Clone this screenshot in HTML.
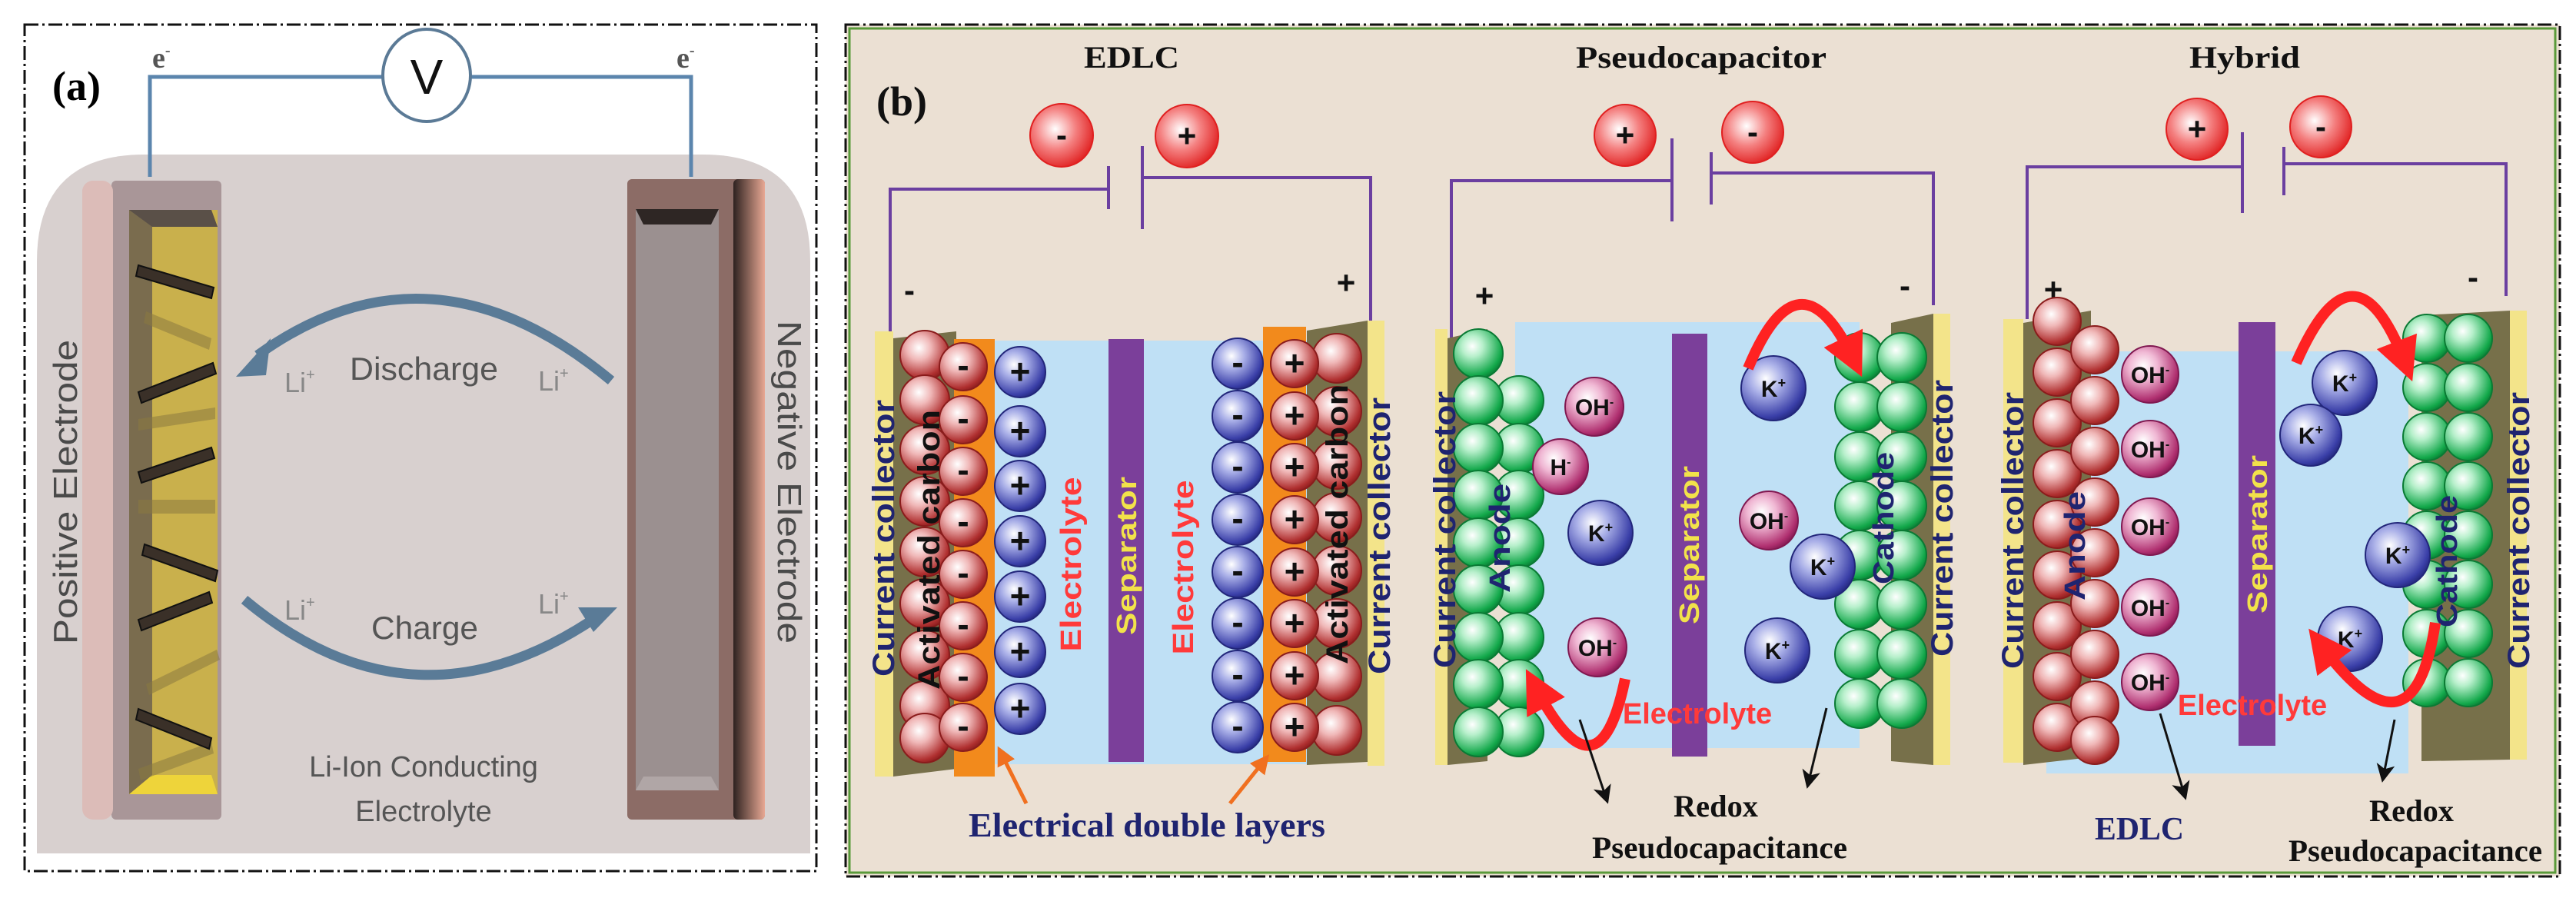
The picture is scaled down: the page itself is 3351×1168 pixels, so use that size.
<!DOCTYPE html>
<html><head><meta charset="utf-8"><style>
html,body{margin:0;padding:0;background:#fff;}
svg{display:block;}
text{font-family:"Liberation Sans",sans-serif;}
.ser, .ser text{font-family:"Liberation Serif",serif;font-weight:bold;}
</style></head><body>
<svg width="3351" height="1168" viewBox="0 0 3351 1168" xmlns="http://www.w3.org/2000/svg">
<defs>
<radialGradient id="rb" cx="0.38" cy="0.35" r="0.7"><stop offset="0" stop-color="#fff"/><stop offset="0.35" stop-color="#f0b8b8"/><stop offset="0.85" stop-color="#b03030"/><stop offset="1" stop-color="#8a1c1c"/></radialGradient>
<radialGradient id="bb" cx="0.38" cy="0.35" r="0.7"><stop offset="0" stop-color="#fff"/><stop offset="0.35" stop-color="#aab0e8"/><stop offset="0.85" stop-color="#3a3fa8"/><stop offset="1" stop-color="#22267a"/></radialGradient>
<radialGradient id="gb" cx="0.38" cy="0.35" r="0.7"><stop offset="0" stop-color="#fff"/><stop offset="0.3" stop-color="#b8f0cc"/><stop offset="0.85" stop-color="#12a84a"/><stop offset="1" stop-color="#0a7a34"/></radialGradient>
<radialGradient id="pb" cx="0.38" cy="0.35" r="0.7"><stop offset="0" stop-color="#fff"/><stop offset="0.35" stop-color="#f0b8d4"/><stop offset="0.85" stop-color="#b03070"/><stop offset="1" stop-color="#801850"/></radialGradient>
<radialGradient id="cb" cx="0.4" cy="0.4" r="0.65"><stop offset="0" stop-color="#fff"/><stop offset="0.5" stop-color="#f48080"/><stop offset="1" stop-color="#e02020"/></radialGradient>
<linearGradient id="negedge" x1="0" x2="1"><stop offset="0" stop-color="#2e2220"/><stop offset="1" stop-color="#e8a894"/></linearGradient>
<marker id="ra" markerWidth="4" markerHeight="4" refX="2" refY="2" orient="auto" markerUnits="strokeWidth"><path d="M0,0 L4,2 L0,4 z" fill="#f22"/></marker>
<marker id="ka" markerWidth="8" markerHeight="8" refX="6" refY="4" orient="auto" markerUnits="strokeWidth"><path d="M0,0 L8,4 L0,8 L2,4 z" fill="#111"/></marker>
<marker id="oa" markerWidth="5" markerHeight="5" refX="4" refY="2.5" orient="auto" markerUnits="strokeWidth"><path d="M0,0 L5,2.5 L0,5 z" fill="#f07020"/></marker>
</defs>

<!-- ============ PANEL A ============ -->
<rect x="32" y="32" width="1030" height="1101" fill="#fff" stroke="#111" stroke-width="3" stroke-dasharray="18,5,3,5"/>
<text x="68" y="130" class="ser" font-size="54">(a)</text>
<path d="M48,1110 L48,340 Q48,201 188,201 L914,201 Q1054,201 1054,340 L1054,1110 Z" fill="#d8d0cf"/>
<path d="M195,230 V100 H498 M612,100 H899 V230" fill="none" stroke="#5b85ad" stroke-width="5"/>
<ellipse cx="555" cy="98" rx="57" ry="60" fill="#fff" stroke="#5b7a96" stroke-width="4"/>
<text x="555" y="122" font-size="64" text-anchor="middle" fill="#111">V</text>
<text x="198" y="88" class="ser" font-size="38" fill="#555">e<tspan font-size="20" dy="-16">-</tspan></text>
<text x="880" y="88" class="ser" font-size="38" fill="#555">e<tspan font-size="20" dy="-16">-</tspan></text>
<rect x="145" y="235" width="143" height="831" fill="#a99698" rx="6"/>
<rect x="107" y="235" width="40" height="831" fill="#dcbcb8" rx="14"/>
<rect x="168" y="273" width="115" height="760" fill="#c9b04c"/>
<rect x="168" y="273" width="30" height="760" fill="#7a6c4e"/>
<polygon points="168,273 275,273 283,295 198,295" fill="#5a5048"/>
<polygon points="168,1033 283,1033 275,1008 198,1008" fill="#eed43a"/>
<g fill="#8a7a40" opacity="0.55">
<polygon points="190,405 275,440 272,455 187,420"/><polygon points="180,545 280,530 280,545 180,560"/><polygon points="180,650 280,650 280,668 180,668"/><polygon points="190,890 282,845 286,858 194,904"/><polygon points="180,1000 275,965 278,980 183,1015"/>
</g>
<g fill="#3a3028" stroke="#111" stroke-width="2">
<polygon points="180,345 278,374 275,388 177,359"/>
<polygon points="180,510 277,472 281,486 184,524"/>
<polygon points="180,614 275,582 279,596 184,628"/>
<polygon points="188,708 283,742 280,756 185,722"/>
<polygon points="180,806 272,770 276,784 184,820"/>
<polygon points="180,922 275,960 272,974 177,936"/>
</g>
<text transform="translate(100,640) rotate(-90)" font-size="44" text-anchor="middle" fill="#4a4a4a" textLength="396" lengthAdjust="spacingAndGlyphs">Positive Electrode</text>
<rect x="816" y="233" width="179" height="833" fill="#8c6c66" rx="6"/>
<rect x="954" y="233" width="41" height="833" fill="url(#negedge)" rx="6"/>
<rect x="827" y="272" width="108" height="756" fill="#9b9090"/>
<polygon points="827,272 935,272 925,292 837,292" fill="#2e2624"/>
<polygon points="827,1028 935,1028 925,1010 837,1010" fill="#b0a6a6"/>
<text transform="translate(1012,627) rotate(90)" font-size="44" text-anchor="middle" fill="#4a4a4a" textLength="420" lengthAdjust="spacingAndGlyphs">Negative Electrode</text>
<path d="M795,495 Q560,300 335,462" fill="none" stroke="#5a7b97" stroke-width="13"/>
<polygon points="307,490 352,440 346,488" fill="#5a7b97"/>
<path d="M318,780 Q540,965 780,800" fill="none" stroke="#5a7b97" stroke-width="13"/>
<polygon points="803,790 752,790 772,822" fill="#5a7b97"/>
<g fill="#555" font-size="42">
<text x="455" y="494" textLength="193" lengthAdjust="spacingAndGlyphs">Discharge</text>
<text x="483" y="831" textLength="139" lengthAdjust="spacingAndGlyphs">Charge</text>
<text x="551" y="1010" text-anchor="middle" font-size="38">Li-Ion Conducting</text>
<text x="551" y="1068" text-anchor="middle" font-size="38">Electrolyte</text>
</g>
<g fill="#888" font-size="36">
<text x="370" y="510">Li<tspan font-size="20" dy="-16">+</tspan></text>
<text x="700" y="508">Li<tspan font-size="20" dy="-16">+</tspan></text>
<text x="370" y="806">Li<tspan font-size="20" dy="-16">+</tspan></text>
<text x="700" y="798">Li<tspan font-size="20" dy="-16">+</tspan></text>
</g>

<!-- ============ PANEL B ============ -->
<rect x="1100" y="32" width="2230" height="1108" fill="#ebe0d3" stroke="#111" stroke-width="3" stroke-dasharray="18,5,3,5"/>
<rect x="1105" y="37" width="2219" height="1098" fill="none" stroke="#5a9a3a" stroke-width="3"/>
<text x="1140" y="150" class="ser" font-size="54" fill="#111">(b)</text>
<g class="ser" font-size="40" fill="#111" text-anchor="middle">
<text x="1472" y="88" textLength="124" lengthAdjust="spacingAndGlyphs">EDLC</text>
<text x="2213" y="88" textLength="326" lengthAdjust="spacingAndGlyphs">Pseudocapacitor</text>
<text x="2920" y="88" textLength="144" lengthAdjust="spacingAndGlyphs">Hybrid</text>
</g>

<g fill="none" stroke="#6b3fa0" stroke-width="4">
<path d="M1158,447 V246 H1442 M1442,216 V272 M1486,190 V298 M1486,231 H1783 V417"/>
<path d="M1888,451 V235 H2175 M2175,180 V288 M2226,198 V266 M2226,225 H2515 V397"/>
<path d="M2637,415 V217 H2917 M2917,172 V277 M2971,191 V254 M2971,213 H3260 V385"/>
</g>
<g stroke="#e02020" stroke-width="2" fill="url(#cb)">
<circle cx="1381" cy="176" r="41"/><circle cx="1544" cy="177" r="41"/>
<circle cx="2114" cy="176" r="40"/><circle cx="2280" cy="172" r="40"/>
<circle cx="2858" cy="168" r="40"/><circle cx="3019" cy="165" r="40"/>
</g>
<g font-size="42" font-weight="bold" text-anchor="middle" fill="#111">
<text x="1381" y="190">-</text><text x="1544" y="191">+</text>
<text x="2114" y="190">+</text><text x="2280" y="186">-</text>
<text x="2858" y="182">+</text><text x="3019" y="179">-</text>
<text x="1183" y="392">-</text><text x="1751" y="382">+</text>
<text x="1931" y="399">+</text><text x="2478" y="386">-</text>
<text x="2671" y="391">+</text><text x="3217" y="375">-</text>
</g>

<!-- EDLC -->
<rect x="1294" y="443" width="416" height="551" fill="#bfe0f5"/>
<polygon points="1162,440 1244,431 1244,1000 1162,1010" fill="#77704a"/>
<rect x="1138" y="431" width="24" height="579" fill="#f3e48a"/>
<rect x="1241" y="441" width="53" height="569" fill="#f28a1c"/>
<rect x="1643" y="425" width="56" height="566" fill="#f28a1c"/>
<polygon points="1700,430 1779,417 1779,991 1700,995" fill="#77704a"/>
<rect x="1779" y="417" width="22" height="579" fill="#f3e48a"/>
<rect x="1442" y="441" width="46" height="550" fill="#7b3f9a"/>
<g stroke="#8a1c1c" stroke-width="2" fill="url(#rb)">
<circle cx="1203" cy="462" r="32"/><circle cx="1203" cy="520" r="32"/><circle cx="1203" cy="585" r="32"/><circle cx="1203" cy="652" r="32"/><circle cx="1203" cy="718" r="32"/><circle cx="1203" cy="785" r="32"/><circle cx="1203" cy="852" r="32"/><circle cx="1203" cy="918" r="32"/><circle cx="1203" cy="960" r="32"/>
<circle cx="1253" cy="477" r="31"/><circle cx="1253" cy="546" r="31"/><circle cx="1253" cy="613" r="31"/><circle cx="1253" cy="680" r="31"/><circle cx="1253" cy="747" r="31"/><circle cx="1253" cy="814" r="31"/><circle cx="1253" cy="881" r="31"/><circle cx="1253" cy="946" r="31"/>
<circle cx="1739" cy="466" r="32"/><circle cx="1739" cy="535" r="32"/><circle cx="1739" cy="604" r="32"/><circle cx="1739" cy="673" r="32"/><circle cx="1739" cy="742" r="32"/><circle cx="1739" cy="811" r="32"/><circle cx="1739" cy="880" r="32"/><circle cx="1739" cy="950" r="32"/>
<circle cx="1684" cy="473" r="31"/><circle cx="1684" cy="541" r="31"/><circle cx="1684" cy="608" r="31"/><circle cx="1684" cy="676" r="31"/><circle cx="1684" cy="744" r="31"/><circle cx="1684" cy="811" r="31"/><circle cx="1684" cy="879" r="31"/><circle cx="1684" cy="946" r="31"/>
</g>
<g stroke="#22267a" stroke-width="2" fill="url(#bb)">
<circle cx="1327" cy="484" r="33"/><circle cx="1327" cy="561" r="33"/><circle cx="1327" cy="632" r="33"/><circle cx="1327" cy="704" r="33"/><circle cx="1327" cy="776" r="33"/><circle cx="1327" cy="848" r="33"/><circle cx="1327" cy="922" r="33"/>
<circle cx="1610" cy="473" r="33"/><circle cx="1610" cy="541" r="33"/><circle cx="1610" cy="608" r="33"/><circle cx="1610" cy="676" r="33"/><circle cx="1610" cy="744" r="33"/><circle cx="1610" cy="811" r="33"/><circle cx="1610" cy="879" r="33"/><circle cx="1610" cy="946" r="33"/>
</g>
<g font-size="46" font-weight="bold" fill="#111" text-anchor="middle">
<text x="1253" y="491">-</text><text x="1253" y="560">-</text><text x="1253" y="627">-</text><text x="1253" y="694">-</text><text x="1253" y="761">-</text><text x="1253" y="828">-</text><text x="1253" y="895">-</text><text x="1253" y="960">-</text>
<text x="1610" y="487">-</text><text x="1610" y="555">-</text><text x="1610" y="622">-</text><text x="1610" y="690">-</text><text x="1610" y="758">-</text><text x="1610" y="825">-</text><text x="1610" y="893">-</text><text x="1610" y="960">-</text>
<text x="1327" y="499">+</text><text x="1327" y="576">+</text><text x="1327" y="647">+</text><text x="1327" y="719">+</text><text x="1327" y="791">+</text><text x="1327" y="863">+</text><text x="1327" y="937">+</text>
<text x="1684" y="488">+</text><text x="1684" y="556">+</text><text x="1684" y="623">+</text><text x="1684" y="691">+</text><text x="1684" y="759">+</text><text x="1684" y="826">+</text><text x="1684" y="894">+</text><text x="1684" y="961">+</text>
</g>
<g font-weight="bold" text-anchor="middle">
<text transform="translate(1163,700) rotate(-90)" font-size="40" fill="#1f2470" textLength="360" lengthAdjust="spacingAndGlyphs">Current collector</text>
<text transform="translate(1222,715) rotate(-90)" font-size="40" fill="#111" textLength="364" lengthAdjust="spacingAndGlyphs">Activated carbon</text>
<text transform="translate(1406,734) rotate(-90)" font-size="38" fill="#ff3a3a" textLength="227" lengthAdjust="spacingAndGlyphs">Electrolyte</text>
<text transform="translate(1478,723) rotate(-90)" font-size="36" fill="#f2e24a" textLength="206" lengthAdjust="spacingAndGlyphs">Separator</text>
<text transform="translate(1552,738) rotate(-90)" font-size="38" fill="#ff3a3a" textLength="227" lengthAdjust="spacingAndGlyphs">Electrolyte</text>
<text transform="translate(1753,682) rotate(-90)" font-size="40" fill="#111" textLength="364" lengthAdjust="spacingAndGlyphs">Activated carbon</text>
<text transform="translate(1808,697) rotate(-90)" font-size="40" fill="#1f2470" textLength="360" lengthAdjust="spacingAndGlyphs">Current collector</text>
</g>
<path d="M1335,1045 L1300,975" stroke="#f07020" stroke-width="5" marker-end="url(#oa)"/>
<path d="M1600,1045 L1648,985" stroke="#f07020" stroke-width="5" marker-end="url(#oa)"/>
<text x="1492" y="1088" class="ser" font-size="44" fill="#1f2470" text-anchor="middle" textLength="464" lengthAdjust="spacingAndGlyphs">Electrical double layers</text>

<!-- PSEUDOCAPACITOR -->
<rect x="1971" y="419" width="448" height="554" fill="#bfe0f5"/>
<polygon points="1883,440 1935,428 1935,990 1883,995" fill="#77704a"/>
<rect x="1867" y="428" width="16" height="567" fill="#f3e48a"/>
<polygon points="2460,420 2515,408 2515,995 2460,990" fill="#77704a"/>
<rect x="2515" y="408" width="22" height="587" fill="#f3e48a"/>
<rect x="2175" y="434" width="46" height="550" fill="#7b3f9a"/>
<g stroke="#0a7a34" stroke-width="2" fill="url(#gb)">
<circle cx="1976" cy="521" r="32"/><circle cx="1976" cy="583" r="32"/><circle cx="1976" cy="644" r="32"/><circle cx="1976" cy="706" r="32"/><circle cx="1976" cy="767" r="32"/><circle cx="1976" cy="829" r="32"/><circle cx="1976" cy="890" r="32"/><circle cx="1976" cy="952" r="32"/>
<circle cx="1923" cy="460" r="32"/><circle cx="1923" cy="521" r="32"/><circle cx="1923" cy="583" r="32"/><circle cx="1923" cy="644" r="32"/><circle cx="1923" cy="706" r="32"/><circle cx="1923" cy="767" r="32"/><circle cx="1923" cy="829" r="32"/><circle cx="1923" cy="890" r="32"/><circle cx="1923" cy="952" r="32"/>
<circle cx="2419" cy="465" r="32"/><circle cx="2419" cy="529" r="32"/><circle cx="2419" cy="594" r="32"/><circle cx="2419" cy="658" r="32"/><circle cx="2419" cy="722" r="32"/><circle cx="2419" cy="786" r="32"/><circle cx="2419" cy="851" r="32"/><circle cx="2419" cy="915" r="32"/>
<circle cx="2474" cy="465" r="32"/><circle cx="2474" cy="529" r="32"/><circle cx="2474" cy="594" r="32"/><circle cx="2474" cy="658" r="32"/><circle cx="2474" cy="722" r="32"/><circle cx="2474" cy="786" r="32"/><circle cx="2474" cy="851" r="32"/><circle cx="2474" cy="915" r="32"/>
</g>
<g stroke="#801850" stroke-width="2" fill="url(#pb)">
<circle cx="2030" cy="607" r="36"/><circle cx="2074" cy="529" r="38"/><circle cx="2078" cy="842" r="38"/><circle cx="2301" cy="677" r="38"/>
</g>
<g stroke="#22267a" stroke-width="2" fill="url(#bb)">
<circle cx="2082" cy="693" r="42"/><circle cx="2307" cy="505" r="42"/><circle cx="2371" cy="737" r="42"/><circle cx="2312" cy="846" r="42"/>
</g>
<g font-size="30" font-weight="bold" fill="#111" text-anchor="middle">
<text x="2030" y="618">H<tspan font-size="16" dy="-12">-</tspan></text>
<text x="2074" y="540">OH<tspan font-size="16" dy="-12">-</tspan></text>
<text x="2078" y="853">OH<tspan font-size="16" dy="-12">-</tspan></text>
<text x="2301" y="688">OH<tspan font-size="16" dy="-12">-</tspan></text>
<text x="2082" y="704">K<tspan font-size="18" dy="-12">+</tspan></text>
<text x="2307" y="516">K<tspan font-size="18" dy="-12">+</tspan></text>
<text x="2371" y="748">K<tspan font-size="18" dy="-12">+</tspan></text>
<text x="2312" y="857">K<tspan font-size="18" dy="-12">+</tspan></text>
</g>
<g font-weight="bold" text-anchor="middle">
<text transform="translate(1893,689) rotate(-90)" font-size="40" fill="#1f2470" textLength="360" lengthAdjust="spacingAndGlyphs">Current collector</text>
<text transform="translate(1964,700) rotate(-90)" font-size="38" fill="#1f2470" textLength="142" lengthAdjust="spacingAndGlyphs">Anode</text>
<text transform="translate(2210,709) rotate(-90)" font-size="36" fill="#f2e24a" textLength="206" lengthAdjust="spacingAndGlyphs">Separator</text>
<text transform="translate(2463,674) rotate(-90)" font-size="38" fill="#1f2470" textLength="172" lengthAdjust="spacingAndGlyphs">Cathode</text>
<text transform="translate(2540,674) rotate(-90)" font-size="40" fill="#1f2470" textLength="360" lengthAdjust="spacingAndGlyphs">Current collector</text>
<text x="2208" y="941" font-size="38" fill="#ff3a3a" text-anchor="middle">Electrolyte</text>
</g>
<path d="M2274,479 Q2340,320 2410,465" fill="none" stroke="#f22" stroke-width="14" marker-end="url(#ra)"/>
<path d="M2114,883 Q2080,1050 1998,895" fill="none" stroke="#f22" stroke-width="14" marker-end="url(#ra)"/>
<path d="M2055,936 L2090,1040" stroke="#111" stroke-width="3" marker-end="url(#ka)"/>
<path d="M2376,921 L2352,1020" stroke="#111" stroke-width="3" marker-end="url(#ka)"/>
<g class="ser" font-size="40" fill="#111" text-anchor="middle">
<text x="2232" y="1062" textLength="110" lengthAdjust="spacingAndGlyphs">Redox</text><text x="2237" y="1116" textLength="332" lengthAdjust="spacingAndGlyphs">Pseudocapacitance</text>
</g>

<!-- HYBRID -->
<rect x="2662" y="457" width="471" height="549" fill="#bfe0f5"/>
<polygon points="2632,420 2720,404 2720,985 2632,995" fill="#77704a"/>
<rect x="2606" y="415" width="26" height="577" fill="#f3e48a"/>
<polygon points="3150,410 3265,404 3265,988 3150,990" fill="#77704a"/>
<rect x="3265" y="404" width="22" height="584" fill="#f3e48a"/>
<rect x="2912" y="419" width="48" height="551" fill="#7b3f9a"/>
<g stroke="#8a1c1c" stroke-width="2" fill="url(#rb)">
<circle cx="2676" cy="418" r="31"/><circle cx="2676" cy="484" r="31"/><circle cx="2676" cy="550" r="31"/><circle cx="2676" cy="616" r="31"/><circle cx="2676" cy="682" r="31"/><circle cx="2676" cy="748" r="31"/><circle cx="2676" cy="814" r="31"/><circle cx="2676" cy="880" r="31"/><circle cx="2676" cy="946" r="31"/>
<circle cx="2725" cy="455" r="31"/><circle cx="2725" cy="521" r="31"/><circle cx="2725" cy="587" r="31"/><circle cx="2725" cy="653" r="31"/><circle cx="2725" cy="719" r="31"/><circle cx="2725" cy="785" r="31"/><circle cx="2725" cy="851" r="31"/><circle cx="2725" cy="917" r="31"/><circle cx="2725" cy="963" r="31"/>
</g>
<g stroke="#801850" stroke-width="2" fill="url(#pb)">
<circle cx="2797" cy="487" r="37"/><circle cx="2797" cy="584" r="37"/><circle cx="2797" cy="685" r="37"/><circle cx="2797" cy="790" r="37"/><circle cx="2797" cy="887" r="37"/>
</g>
<g stroke="#0a7a34" stroke-width="2" fill="url(#gb)">
<circle cx="3157" cy="440" r="31"/><circle cx="3157" cy="504" r="31"/><circle cx="3157" cy="568" r="31"/><circle cx="3157" cy="632" r="31"/><circle cx="3157" cy="696" r="31"/><circle cx="3157" cy="760" r="31"/><circle cx="3157" cy="824" r="31"/><circle cx="3157" cy="888" r="31"/>
<circle cx="3211" cy="440" r="31"/><circle cx="3211" cy="504" r="31"/><circle cx="3211" cy="568" r="31"/><circle cx="3211" cy="632" r="31"/><circle cx="3211" cy="696" r="31"/><circle cx="3211" cy="760" r="31"/><circle cx="3211" cy="824" r="31"/><circle cx="3211" cy="888" r="31"/>
</g>
<g stroke="#22267a" stroke-width="2" fill="url(#bb)">
<circle cx="3050" cy="498" r="42"/><circle cx="3006" cy="566" r="40"/><circle cx="3119" cy="722" r="42"/><circle cx="3057" cy="831" r="42"/>
</g>
<g font-size="30" font-weight="bold" fill="#111" text-anchor="middle">
<text x="2797" y="498">OH<tspan font-size="16" dy="-12">-</tspan></text>
<text x="2797" y="595">OH<tspan font-size="16" dy="-12">-</tspan></text>
<text x="2797" y="696">OH<tspan font-size="16" dy="-12">-</tspan></text>
<text x="2797" y="801">OH<tspan font-size="16" dy="-12">-</tspan></text>
<text x="2797" y="898">OH<tspan font-size="16" dy="-12">-</tspan></text>
<text x="3050" y="509">K<tspan font-size="18" dy="-12">+</tspan></text>
<text x="3006" y="577">K<tspan font-size="18" dy="-12">+</tspan></text>
<text x="3119" y="733">K<tspan font-size="18" dy="-12">+</tspan></text>
<text x="3057" y="842">K<tspan font-size="18" dy="-12">+</tspan></text>
</g>
<g font-weight="bold" text-anchor="middle">
<text transform="translate(2632,690) rotate(-90)" font-size="40" fill="#1f2470" textLength="360" lengthAdjust="spacingAndGlyphs">Current collector</text>
<text transform="translate(2712,710) rotate(-90)" font-size="38" fill="#1f2470" textLength="142" lengthAdjust="spacingAndGlyphs">Anode</text>
<text transform="translate(2949,695) rotate(-90)" font-size="36" fill="#f2e24a" textLength="206" lengthAdjust="spacingAndGlyphs">Separator</text>
<text transform="translate(3196,730) rotate(-90)" font-size="38" fill="#1f2470" textLength="172" lengthAdjust="spacingAndGlyphs">Cathode</text>
<text transform="translate(3290,690) rotate(-90)" font-size="40" fill="#1f2470" textLength="360" lengthAdjust="spacingAndGlyphs">Current collector</text>
<text x="2930" y="930" font-size="38" fill="#ff3a3a" text-anchor="middle">Electrolyte</text>
</g>
<path d="M2987,472 Q3062,300 3128,470" fill="none" stroke="#f22" stroke-width="14" marker-end="url(#ra)"/>
<path d="M3168,810 Q3140,1000 3020,840" fill="none" stroke="#f22" stroke-width="14" marker-end="url(#ra)"/>
<path d="M2810,928 L2842,1035" stroke="#111" stroke-width="3" marker-end="url(#ka)"/>
<path d="M3115,936 L3100,1012" stroke="#111" stroke-width="3" marker-end="url(#ka)"/>
<text x="2783" y="1092" class="ser" font-size="42" fill="#1f2470" text-anchor="middle" textLength="116" lengthAdjust="spacingAndGlyphs">EDLC</text>
<g class="ser" font-size="40" fill="#111" text-anchor="middle">
<text x="3137" y="1068" textLength="110" lengthAdjust="spacingAndGlyphs">Redox</text><text x="3142" y="1120" textLength="330" lengthAdjust="spacingAndGlyphs">Pseudocapacitance</text>
</g>
</svg>
</body></html>
